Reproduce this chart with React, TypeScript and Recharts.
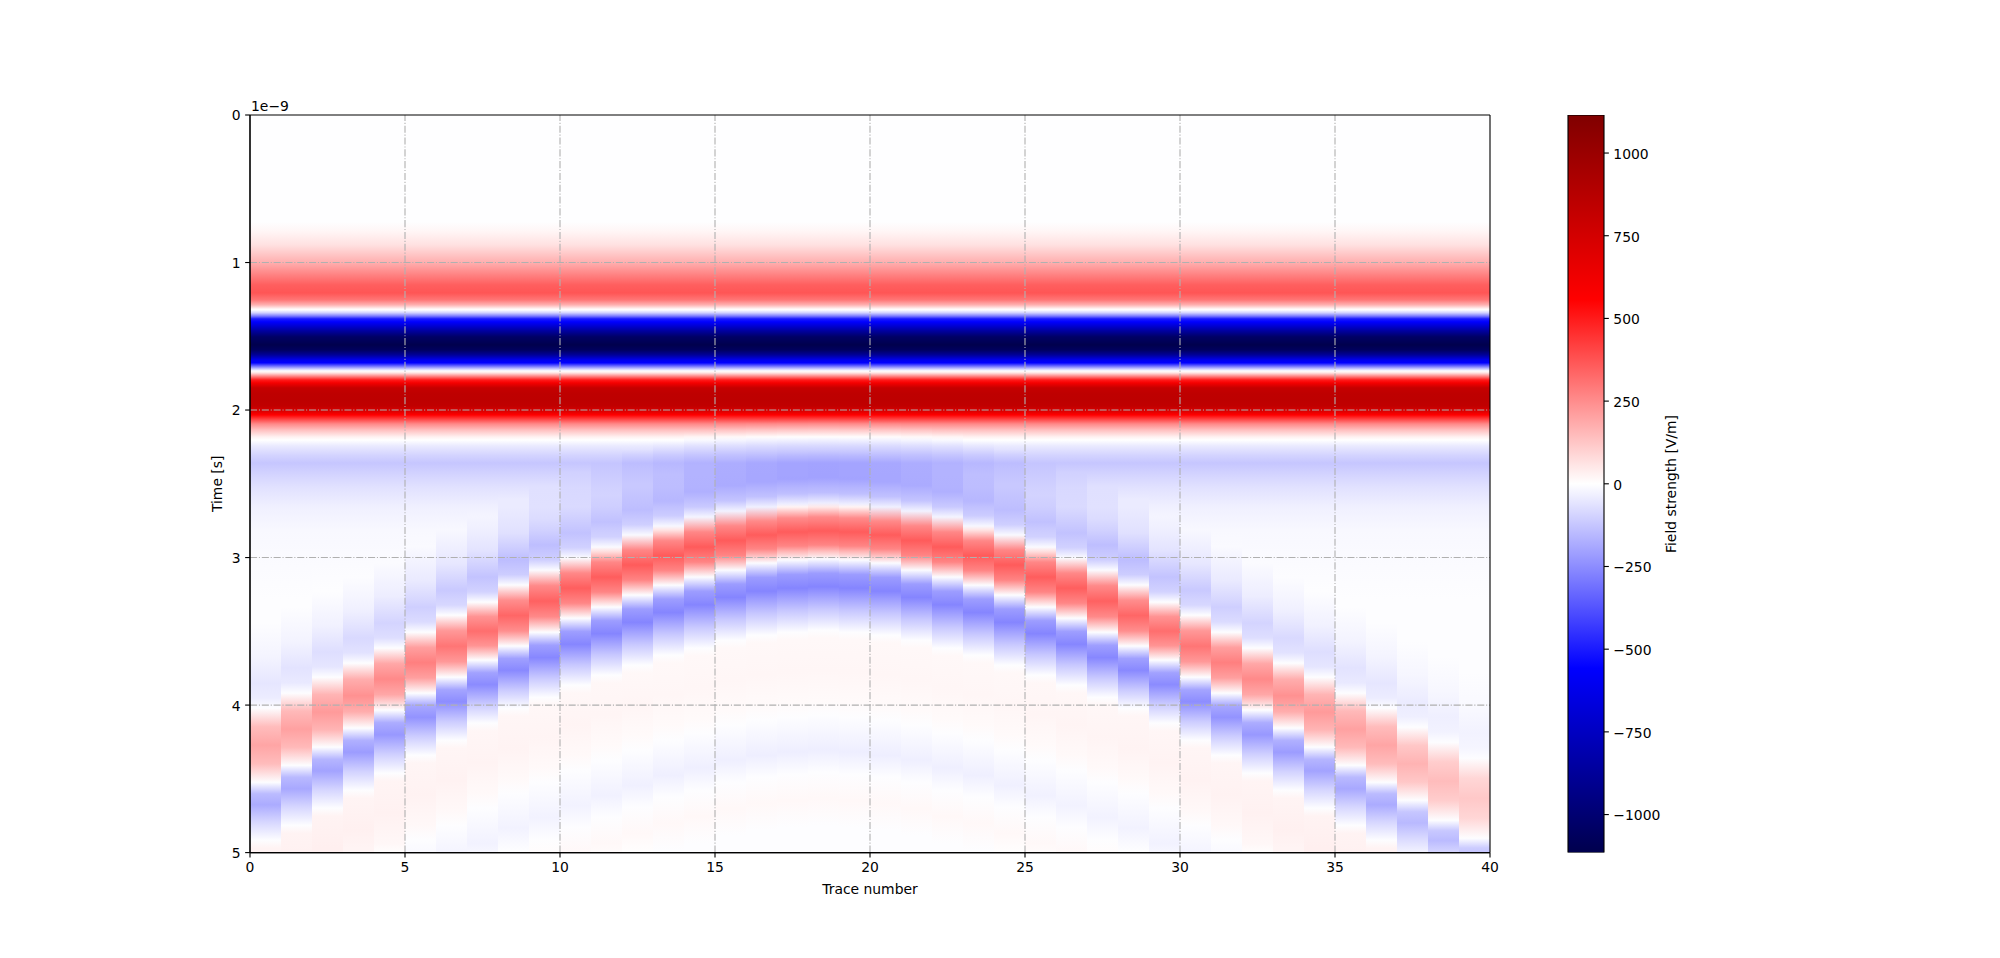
import React from 'react';
import { ComposedChart, Bar, XAxis, YAxis, ReferenceLine, ReferenceArea } from 'recharts';

// Trace numbers (left edges of the 40 columns)
const traceNumbers = [0,1,2,3,4,5,6,7,8,9,10,11,12,13,14,15,16,17,18,19,20,21,22,23,24,25,26,27,28,29,30,31,32,33,34,35,36,37,38,39];

// Direct wave, common to all traces: time [ns] and field strength [V/m]
const directTimes = [0,0.724,0.792,0.88,1,1.083,1.151,1.206,1.253,1.287,1.314,1.321,1.341,1.362,1.382,1.402,1.457,1.504,1.558,1.592,1.626,1.66,1.68,1.701,1.721,1.735,1.748,1.769,1.796,1.816,1.85,1.891,1.932,1.972,2.006,2.033,2.06,2.094,2.135,2.182,2.203,2.243,2.305,2.359,2.44,2.522,2.657,2.813,2.963,3.288,5];
const directValues = [-2,-2,22,66,175,273,350,371,300,170,20,0,-100,-280,-500,-557,-830,-1040,-1115,-1060,-880,-620,-557,-330,-120,0,60,250,500,600,810,841,845,835,720,557,420,260,140,30,0,-45,-95,-125,-95,-65,-32,-15,-10,-4,-4];

// Reflection hyperbola, read per trace: white crossings [ns]
const redTop = [4.021,3.919,3.811,3.716,3.614,3.506,3.391,3.302,3.186,3.085,3.003,2.929,2.847,2.786,2.725,2.685,2.657,2.637,2.63,2.637,2.657,2.685,2.725,2.786,2.847,2.929,3.003,3.085,3.186,3.302,3.391,3.506,3.614,3.716,3.811,3.919,4.021,4.15,4.252,4.36];
const redBlue = [4.523,4.408,4.285,4.156,4.034,3.919,3.811,3.695,3.6,3.506,3.411,3.336,3.254,3.187,3.132,3.085,3.037,3.017,3.01,3.017,3.037,3.085,3.132,3.187,3.254,3.336,3.411,3.506,3.6,3.695,3.811,3.919,4.034,4.156,4.285,4.408,4.523,4.645,4.781,4.903];
const blueEnd = [4.916,4.815,4.699,4.577,4.462,4.34,4.238,4.122,4.021,3.947,3.865,3.797,3.729,3.661,3.614,3.56,3.526,3.506,3.492,3.506,3.526,3.56,3.614,3.661,3.729,3.797,3.865,3.947,4.021,4.122,4.238,4.34,4.462,4.577,4.699,4.815,4.916,5.039,5.134,5.229];

// Lobe strengths per trace [V/m]
const preAmp = [50,58,68,78,90,100,112,125,135,130,120,115,115,115,115,115,115,115,115,115,115,115,115,115,115,115,120,130,135,125,112,100,90,78,68,58,50,40,32,24];
const redAmp = [200,210,225,245,262,284,305,320,338,350,358,362,366,368,370,371,371,371,371,371,371,371,370,368,366,362,358,350,338,320,305,284,262,245,225,210,200,170,150,125];
const blueAmp = [180,187,197,212,222,232,245,250,254,258,260,262,262,262,262,262,262,262,262,262,262,262,262,262,262,262,260,258,254,250,245,232,222,212,197,187,180,150,145,135];
const pinkAmp = [38,38,38,36,35,33,32,30,30,28,27,26,25,24,24,24,24,24,24,24,24,24,24,24,24,26,27,28,30,30,32,33,35,36,38,38,38,38,38,38];
const faintBlueAmp = [25,25,25,25,25,25,25,25,25,25,25,27,28,30,30,32,33,33,33,33,33,32,30,30,28,27,25,25,25,25,25,25,25,25,25,25,25,25,25,25];
const faintPinkAmp = [20,20,20,20,20,20,20,20,20,20,20,20,20,20,20,20,20,20,20,20,20,20,20,20,20,20,20,20,20,20,20,20,20,20,20,20,20,20,20,20];

// Wavelet outline (offsets in ns or fraction of a lobe, relative strength)
const preOffsets = [-0.58,-0.35,-0.17,-0.07];
const preShape = [0,0.4,1,0.75];
const redFractions = [0.25,0.5,0.75];
const redShape = [0.75,1,0.75];
const blueFractions = [0.2,0.39,0.7];
const blueShape = [0.8,1,0.45];
const tailOffsets = [0.054,0.271,0.475,0.577,0.814,0.963,1.14,1.323];

const xTicks = [0,5,10,15,20,25,30,35,40];
const yTicks = [0,1,2,3,4,5];
const xGridLines = [5,10,15,20,25,30,35];
const yGridLines = [1,2,3,4];
const colorTicks = [-1000,-750,-500,-250,0,250,500,750,1000];
const colorLimit = 1115;

const FONT = '"DejaVu Sans"';
const FS = 13.9;
const LW = 1.11;
const COLUMN_WIDTH = 31;
const GRID_DASH = '7.1 1.8 1.1 1.8';

function seismic(v: number): string {
  const s = Math.max(0, Math.min(1, (v + colorLimit) / (2 * colorLimit)));
  let r: number, g: number, b: number;
  if (s < 0.25) { r = 0; g = 0; b = 0.3 + 0.7 * (s / 0.25); }
  else if (s < 0.5) { const f = (s - 0.25) / 0.25; r = f; g = f; b = 1; }
  else if (s < 0.75) { const f = (s - 0.5) / 0.25; r = 1; g = 1 - f; b = 1 - f; }
  else { r = 1 - 0.5 * ((s - 0.75) / 0.25); g = 0; b = 0; }
  return `rgb(${Math.round(r * 255)},${Math.round(g * 255)},${Math.round(b * 255)})`;
}

function readAt(ts: number[], vs: number[], t: number): number {
  if (t <= ts[0]) return vs[0];
  for (let i = 1; i < ts.length; i++) {
    if (t <= ts[i]) {
      const d = ts[i] - ts[i - 1];
      return d <= 0 ? vs[i] : vs[i - 1] + ((vs[i] - vs[i - 1]) * (t - ts[i - 1])) / d;
    }
  }
  return vs[vs.length - 1];
}

function traceStops(k: number) {
  const ts: number[] = [];
  const vs: number[] = [];
  const add = (t: number, v: number) => { ts.push(t); vs.push(v); };
  preOffsets.forEach((o, i) => add(redTop[k] + o, -preAmp[k] * preShape[i]));
  add(redTop[k], 0);
  redFractions.forEach((f, i) => add(redTop[k] + f * (redBlue[k] - redTop[k]), redAmp[k] * redShape[i]));
  add(redBlue[k], 0);
  blueFractions.forEach((f, i) => add(redBlue[k] + f * (blueEnd[k] - redBlue[k]), -blueAmp[k] * blueShape[i]));
  add(blueEnd[k], 0);
  const tailValues = [0.8 * pinkAmp[k], pinkAmp[k], 0.6 * pinkAmp[k], 0, -faintBlueAmp[k], 0, faintPinkAmp[k], 0];
  tailOffsets.forEach((o, i) => add(blueEnd[k] + o, tailValues[i]));
  const times = Array.from(new Set([...directTimes, ...ts])).filter((t) => t <= 5).sort((a, b) => a - b);
  return times.map((t) => {
    const inLobes = t >= ts[0] && t <= ts[ts.length - 1];
    const value = readAt(directTimes, directValues, t) + (inLobes ? readAt(ts, vs, t) : 0);
    return { offset: t / 5, color: seismic(value) };
  });
}

const traceRows = traceNumbers.map((k) => ({ trace: k + 0.5, span: [0, 5], k }));
const scaleRows = [{ name: 'scale', span: [-colorLimit, colorLimit] }];
const tickStyle = { fontFamily: FONT, fontSize: FS, fill: '#000' };
const minus = (v: number) => String(v).replace('-', '\u2212');

const HeatCell = (p: any) => (
  <rect x={Math.round(p.x + p.width / 2 - COLUMN_WIDTH / 2)} y={Math.min(p.y, p.y + p.height)} width={COLUMN_WIDTH} height={Math.abs(p.height)} fill={`url(#trace-${p.payload.k})`} />
);
const ScaleCell = (p: any) => (
  <rect x={p.x} y={p.y} width={p.width} height={p.height} fill="url(#scale-grad)" stroke="#000" strokeWidth={LW} />
);

export default function App() {
  return (
    <div style={{ position: 'absolute', left: 0, top: 0, width: 2000, height: 958, background: '#fff', overflow: 'hidden' }}>
      <div style={{ position: 'absolute', left: 0, top: 0 }}>
        <ComposedChart width={1500} height={958} data={traceRows} margin={{ left: 200, right: 10, top: 115, bottom: 65.4 }} barCategoryGap={0} barGap={0}>
          <defs>
            {traceNumbers.map((k) => (
              <linearGradient key={k} id={`trace-${k}`} x1="0" y1="0" x2="0" y2="1">
                {traceStops(k).map((s, i) => <stop key={i} offset={s.offset} stopColor={s.color} />)}
              </linearGradient>
            ))}
          </defs>
          <XAxis dataKey="trace" type="number" domain={[0, 40]} ticks={xTicks} height={40} interval={0}
            tick={tickStyle} tickSize={4.86} tickMargin={4.5} stroke="#000" strokeWidth={LW} allowDataOverflow
            label={{ value: 'Trace number', position: 'insideBottom', offset: 0, dy: 1, style: tickStyle }} />
          <YAxis type="number" domain={[0, 5]} reversed ticks={yTicks} width={50} interval={0}
            tick={{ ...tickStyle, dy: 0.5 }} tickSize={4.86} tickMargin={4.5} stroke="#000" strokeWidth={LW} allowDataOverflow
            label={{ value: 'Time [s]', angle: -90, position: 'insideLeft', offset: 0, dx: 17, style: { ...tickStyle, textAnchor: 'middle' } }} />
          <Bar dataKey="span" isAnimationActive={false} barSize={31} shape={HeatCell} />
          {xGridLines.map((v) => <ReferenceLine key={`x${v}`} x={v} stroke="#b0b0b0" strokeWidth={LW} strokeDasharray={GRID_DASH} ifOverflow="visible" />)}
          {yGridLines.map((v) => <ReferenceLine key={`y${v}`} y={v} stroke="#b0b0b0" strokeWidth={LW} strokeDasharray={GRID_DASH} ifOverflow="visible" />)}
          <ReferenceLine y={0} stroke="#000" strokeWidth={LW} ifOverflow="visible" />
          <ReferenceLine y={5} stroke="#000" strokeWidth={LW} ifOverflow="visible" />
          <ReferenceLine x={0} stroke="#000" strokeWidth={LW} ifOverflow="visible" />
          <ReferenceLine x={40} stroke="#000" strokeWidth={LW} ifOverflow="visible" />
          <text x={251} y={111} fontFamily={FONT} fontSize={FS} fill="#000">1e{'\u2212'}9</text>
        </ComposedChart>
      </div>
      <div style={{ position: 'absolute', left: 1500, top: 0 }}>
        <ComposedChart width={300} height={958} data={scaleRows} margin={{ left: 68, right: 136, top: 115, bottom: 105.4 }} barCategoryGap={0}>
          <defs>
            <linearGradient id="scale-grad" x1="0" y1="0" x2="0" y2="1">
              {[1115, 557.5, 0, -557.5, -1115].map((v, i) => <stop key={i} offset={i / 4} stopColor={seismic(v)} />)}
            </linearGradient>
          </defs>
          <XAxis dataKey="name" hide />
          <YAxis orientation="right" type="number" domain={[-colorLimit, colorLimit]} ticks={colorTicks} width={60} interval={0}
            tick={{ ...tickStyle, dy: 1 }} tickSize={4.86} tickMargin={4.5} tickFormatter={minus} axisLine={false} stroke="#000" strokeWidth={LW} allowDataOverflow />
          <Bar dataKey="span" isAnimationActive={false} shape={ScaleCell} />
          <text x={172} y={484} transform="rotate(-90 172 484)" textAnchor="middle" dominantBaseline="middle" fontFamily={FONT} fontSize={FS} fill="#000">Field strength [V/m]</text>
        </ComposedChart>
      </div>
    </div>
  );
}
